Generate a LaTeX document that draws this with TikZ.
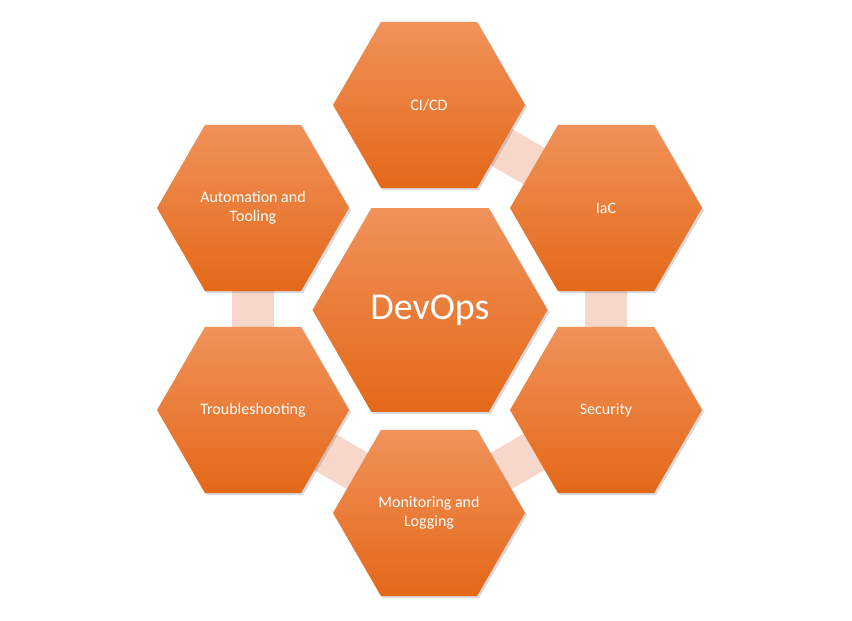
\documentclass[tikz,border=0pt]{standalone}
\usepackage{fontspec}
\setmainfont{Carlito}
\usetikzlibrary{shapes.geometric,shadows}
\pgfdeclarelayer{background}
\pgfsetlayers{background,main}
\definecolor{hextop}{RGB}{240,146,90}
\definecolor{hexbot}{RGB}{228,104,24}
\definecolor{bandc}{RGB}{248,215,203}
\tikzset{
  hexs/.style={regular polygon, regular polygon sides=6, minimum size=192pt, inner sep=0pt,
    top color=hextop, bottom color=hexbot, draw=none,
    drop shadow={shadow xshift=2pt, shadow yshift=-2pt, opacity=0.3},
    text=white, align=center, font=\fontsize{16}{19}\selectfont},
  bighex/.style={hexs, minimum size=235pt, font=\fontsize{38}{44}\selectfont},
  band/.style={line width=42pt, draw=bandc}
}
\begin{document}
\begin{tikzpicture}[x=1pt,y=-1pt]
\useasboundingbox (0,0) rectangle (852,621);
\node[hexs] (cicd) at (429,105) {CI/CD};
\node[hexs] (iac) at (606,208) {IaC};
\node[hexs] (sec) at (606,410) {Security};
\node[hexs] (mon) at (429,513) {Monitoring and\\Logging};
\node[hexs] (tro) at (253,410) {Troubleshooting};
\node[hexs] (aut) at (253,208) {Automation and\\Tooling};
\node[bighex] (dev) at (430,310) {DevOps};
\begin{pgfonlayer}{background}
\draw[band] (cicd.center) -- (iac.center);
\draw[band] (iac.center) -- (sec.center);
\draw[band] (sec.center) -- (mon.center);
\draw[band] (mon.center) -- (tro.center);
\draw[band] (tro.center) -- (aut.center);
\end{pgfonlayer}
\end{tikzpicture}
\end{document}
